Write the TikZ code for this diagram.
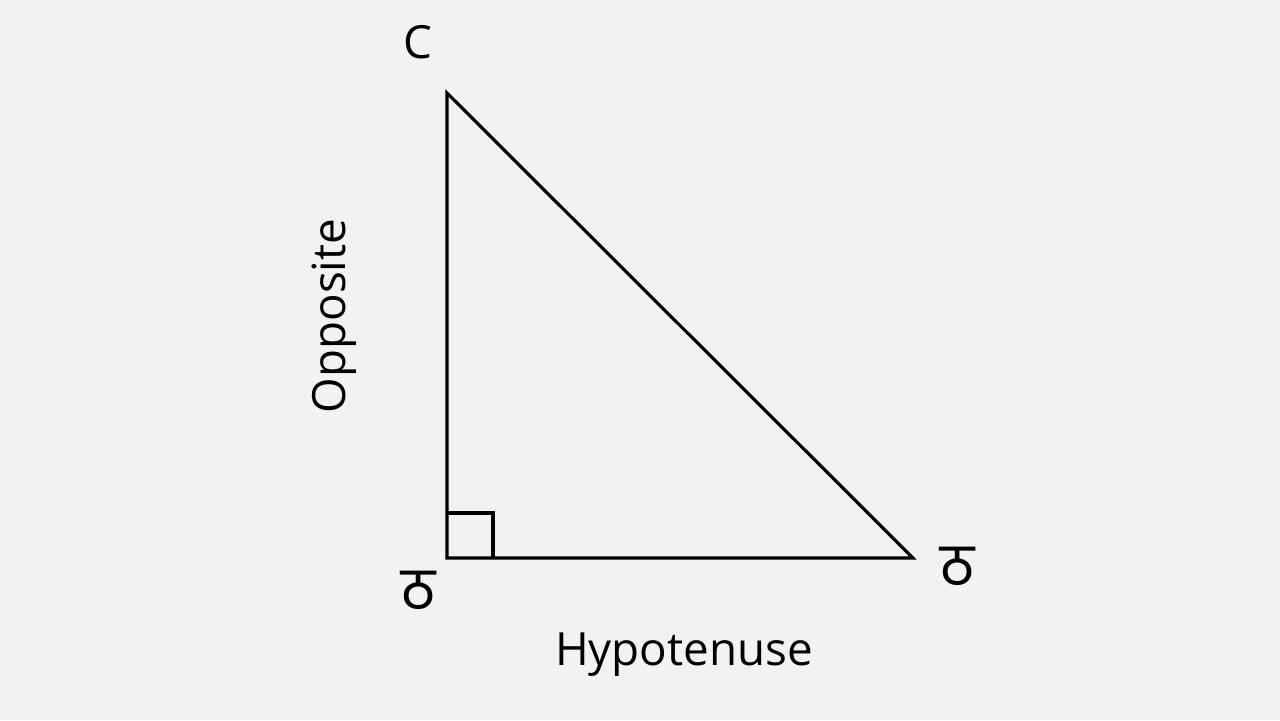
\documentclass[tikz,border=0pt]{standalone}
\usepackage{fontspec}
\setmainfont{Open Sans}
\newfontfamily\gurfont[Script=Gurmukhi]{Hind Jalandhar}
\usetikzlibrary{positioning,calc}
\definecolor{paper}{RGB}{241,242,243}

\begin{document}
\begin{tikzpicture}[x=0.01cm,y=-0.01cm,
semithick]
\tikzstyle{side}=[draw=black,line width=0.9pt,line join=miter]
\tikzstyle{vlabel}=[font=\fontsize{13}{15}\selectfont,text=black,inner sep=0pt]
\tikzstyle{glyph}=[font=\fontsize{17}{19}\selectfont\gurfont,text=black,inner sep=0pt]

\fill[paper] (0,0) rectangle (1280,720);
\useasboundingbox (0,0) rectangle (1280,720);

% vertices
\coordinate (C) at (447,93);
\coordinate (A) at (447,558);
\coordinate (B) at (913,558);

\draw[side] (C) -- (A) -- (B) -- cycle;

% right angle mark
\draw[side] (A) ++(0,-45) -| ++(46,45);

\node[vlabel] (LC) at (418,42) {C};
\node[glyph] (LA) at (419,590) {ਠ};
\node[glyph] (LB) at (958,566) {ਠ};

\node[vlabel, rotate=90] (Opp) at (334,316) {Opposite};
\node[vlabel] (Hyp) at (684,655) {Hypotenuse};

\end{tikzpicture}
\end{document}
